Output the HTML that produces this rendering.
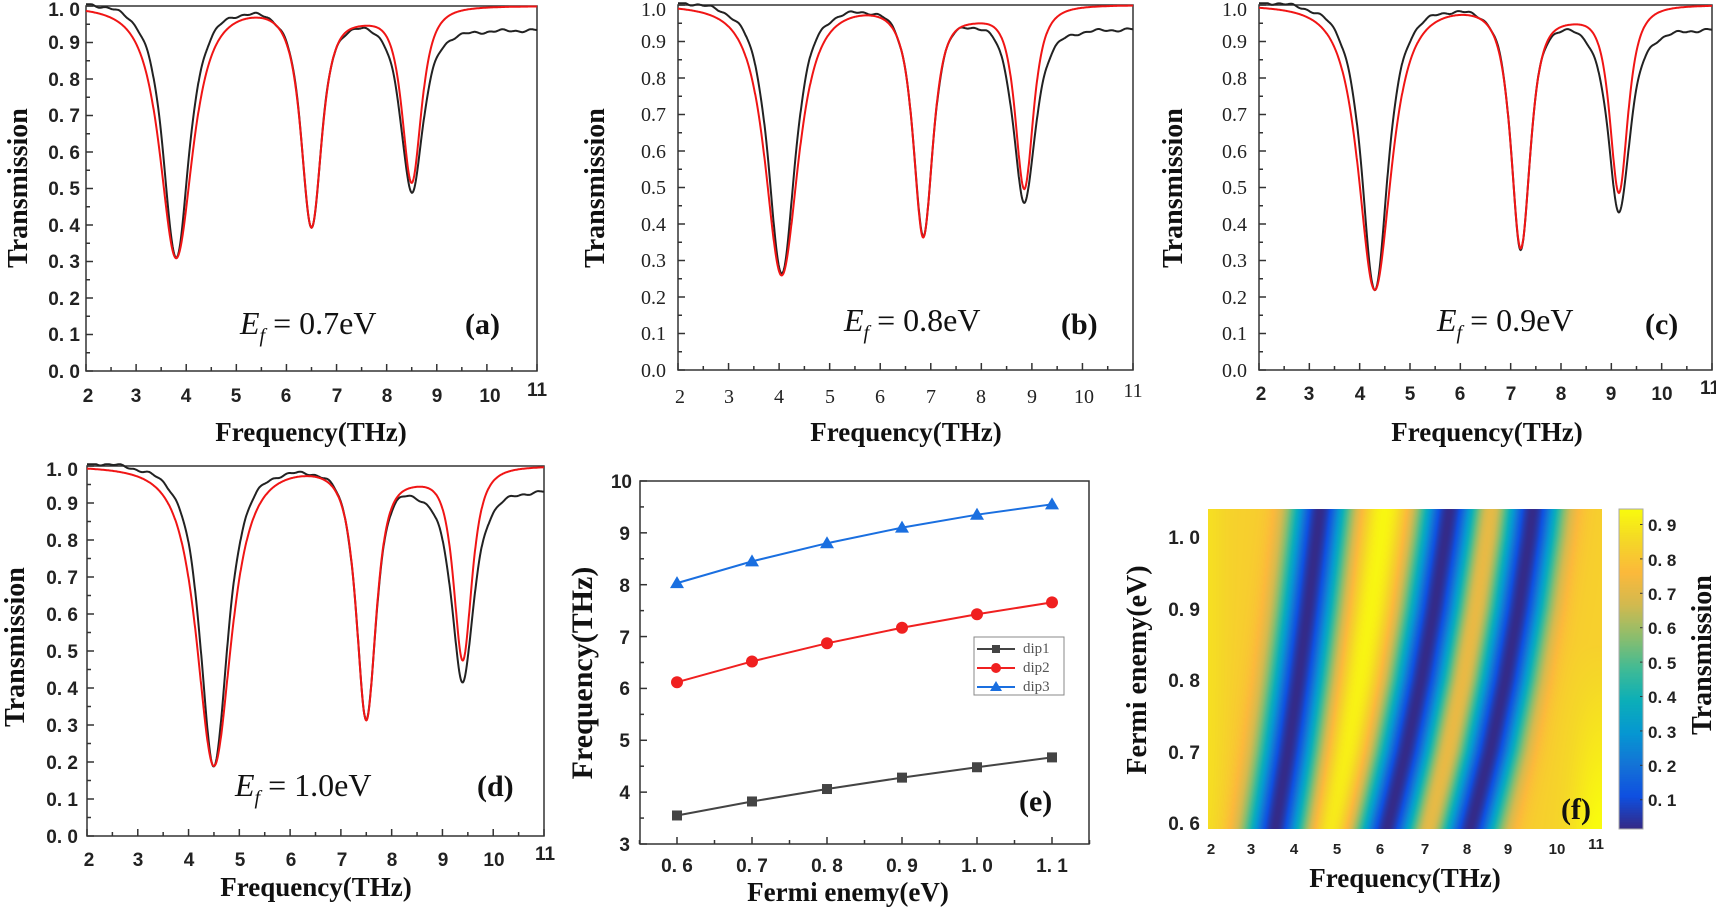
<!DOCTYPE html>
<html><head><meta charset="utf-8"><style>
html,body{margin:0;padding:0;background:#fff;}
body{width:1716px;height:910px;position:relative;overflow:hidden;}
canvas{position:absolute;}
svg{position:absolute;left:0;top:0;}
.s{font-family:"Liberation Sans",sans-serif;font-weight:bold;font-size:19px;fill:#222;}
.r{font-family:"Liberation Serif",serif;font-size:20px;fill:#222;}
.t{font-family:"Liberation Serif",serif;font-weight:bold;font-size:27px;fill:#111;}
.it{font-family:"Liberation Serif",serif;font-size:32px;fill:#111;}
</style></head><body>
<canvas id="hm" width="394" height="320" style="left:1208px;top:509px"></canvas>
<canvas id="cb" width="24" height="320" style="left:1619px;top:509px"></canvas>
<svg id="sv" width="1716" height="910" xmlns="http://www.w3.org/2000/svg">
<g id="g"></g>
<g class="s" text-anchor="end">
<text x="80" y="378">0. 0</text><text x="80" y="341">0. 1</text><text x="80" y="305">0. 2</text><text x="80" y="268">0. 3</text><text x="80" y="232">0. 4</text><text x="80" y="195">0. 5</text><text x="80" y="159">0. 6</text><text x="80" y="122">0. 7</text><text x="80" y="86">0. 8</text><text x="80" y="49">0. 9</text><text x="80" y="16">1. 0</text>
<text x="78" y="843">0. 0</text><text x="78" y="806">0. 1</text><text x="78" y="769">0. 2</text><text x="78" y="732">0. 3</text><text x="78" y="695">0. 4</text><text x="78" y="658">0. 5</text><text x="78" y="621">0. 6</text><text x="78" y="584">0. 7</text><text x="78" y="547">0. 8</text><text x="78" y="510">0. 9</text><text x="78" y="476">1. 0</text>
</g>
<g class="s" text-anchor="middle">
<text x="88" y="402">2</text><text x="136" y="402">3</text><text x="186" y="402">4</text><text x="236" y="402">5</text><text x="286" y="402">6</text><text x="337" y="402">7</text><text x="387" y="402">8</text><text x="437" y="402">9</text><text x="490" y="402">10</text><text x="537" y="396">11</text>
<text x="89" y="866">2</text><text x="138" y="866">3</text><text x="189" y="866">4</text><text x="240" y="866">5</text><text x="291" y="866">6</text><text x="342" y="866">7</text><text x="392" y="866">8</text><text x="443" y="866">9</text><text x="494" y="866">10</text><text x="545" y="860">11</text>
</g>
<g class="r" text-anchor="end">
<text x="666" y="377">0.0</text><text x="666" y="340">0.1</text><text x="666" y="304">0.2</text><text x="666" y="267">0.3</text><text x="666" y="231">0.4</text><text x="666" y="194">0.5</text><text x="666" y="158">0.6</text><text x="666" y="121">0.7</text><text x="666" y="85">0.8</text><text x="666" y="48">0.9</text><text x="666" y="16">1.0</text>
<text x="1247" y="377">0.0</text><text x="1247" y="340">0.1</text><text x="1247" y="304">0.2</text><text x="1247" y="267">0.3</text><text x="1247" y="231">0.4</text><text x="1247" y="194">0.5</text><text x="1247" y="158">0.6</text><text x="1247" y="121">0.7</text><text x="1247" y="85">0.8</text><text x="1247" y="48">0.9</text><text x="1247" y="16">1.0</text>
</g>
<g class="r" text-anchor="middle">
<text x="680" y="403">2</text><text x="729" y="403">3</text><text x="779" y="403">4</text><text x="830" y="403">5</text><text x="880" y="403">6</text><text x="931" y="403">7</text><text x="981" y="403">8</text><text x="1032" y="403">9</text><text x="1084" y="403">10</text><text x="1133" y="397">11</text>
</g>
<g class="s" text-anchor="middle">
<text x="1261" y="400">2</text><text x="1309" y="400">3</text><text x="1360" y="400">4</text><text x="1410" y="400">5</text><text x="1460" y="400">6</text><text x="1511" y="400">7</text><text x="1561" y="400">8</text><text x="1611" y="400">9</text><text x="1662" y="400">10</text><text x="1710" y="394">11</text>
</g>
<g class="t" text-anchor="middle">
<text x="311" y="441">Frequency(THz)</text>
<text x="906" y="441">Frequency(THz)</text>
<text x="1487" y="441">Frequency(THz)</text>
<text x="316" y="896">Frequency(THz)</text>
<text x="848" y="901">Fermi enemy(eV)</text>
<text x="1405" y="887">Frequency(THz)</text>
<text transform="translate(27,188) rotate(-90)" style="font-size:28px">Transmission</text>
<text transform="translate(604,188) rotate(-90)" style="font-size:28px">Transmission</text>
<text transform="translate(1182,188) rotate(-90)" style="font-size:28px">Transmission</text>
<text transform="translate(24,647) rotate(-90)" style="font-size:28px">Transmission</text>
<text transform="translate(592,673) rotate(-90)" style="font-size:30px">Frequency(THz)</text>
<text transform="translate(1146,670) rotate(-90)" style="font-size:28px">Fermi enemy(eV)</text>
<text transform="translate(1711,655) rotate(-90)" style="font-size:28px">Transmission</text>
</g>
<g class="it">
<text x="240" y="334"><tspan font-style="italic">E</tspan><tspan font-style="italic" font-size="20" dy="8">f</tspan><tspan dy="-8"> = 0.7eV</tspan></text>
<text x="844" y="331"><tspan font-style="italic">E</tspan><tspan font-style="italic" font-size="20" dy="8">f</tspan><tspan dy="-8"> = 0.8eV</tspan></text>
<text x="1437" y="331"><tspan font-style="italic">E</tspan><tspan font-style="italic" font-size="20" dy="8">f</tspan><tspan dy="-8"> = 0.9eV</tspan></text>
<text x="235" y="796"><tspan font-style="italic">E</tspan><tspan font-style="italic" font-size="20" dy="8">f</tspan><tspan dy="-8"> = 1.0eV</tspan></text>
</g>
<g class="t" style="font-size:30px">
<text x="465" y="334">(a)</text><text x="1061" y="334">(b)</text><text x="1645" y="334">(c)</text><text x="477" y="796">(d)</text>
<text x="1019" y="811">(e)</text><text x="1561" y="819">(f)</text>
</g>
<g class="s" text-anchor="end">
<text x="630" y="851">3</text><text x="630" y="799">4</text><text x="630" y="747">5</text><text x="630" y="695">6</text><text x="630" y="644">7</text><text x="630" y="592">8</text><text x="630" y="540">9</text><text x="632" y="488">10</text>
</g>
<g class="s" text-anchor="middle">
<text x="677" y="872">0. 6</text><text x="752" y="872">0. 7</text><text x="827" y="872">0. 8</text><text x="902" y="872">0. 9</text><text x="977" y="872">1. 0</text><text x="1052" y="872">1. 1</text>
</g>
<g font-family="Liberation Serif,serif" font-size="15" fill="#555">
<text x="1023" y="653">dip1</text><text x="1023" y="672">dip2</text><text x="1023" y="691">dip3</text>
</g>
<g class="s" text-anchor="end">
<text x="1200" y="544">1. 0</text><text x="1200" y="616">0. 9</text><text x="1200" y="687">0. 8</text><text x="1200" y="759">0. 7</text><text x="1200" y="830">0. 6</text>
</g>
<g class="s" text-anchor="middle" style="font-size:15px">
<text x="1211" y="854">2</text><text x="1251" y="854">3</text><text x="1294" y="854">4</text><text x="1337" y="854">5</text><text x="1380" y="854">6</text><text x="1425" y="854">7</text><text x="1467" y="854">8</text><text x="1508" y="854">9</text><text x="1557" y="854">10</text><text x="1596" y="849">11</text>
</g>
<g class="s" style="font-size:17px">
<text x="1648" y="531">0. 9</text><text x="1648" y="566">0. 8</text><text x="1648" y="600">0. 7</text><text x="1648" y="634">0. 6</text><text x="1648" y="669">0. 5</text><text x="1648" y="703">0. 4</text><text x="1648" y="738">0. 3</text><text x="1648" y="772">0. 2</text><text x="1648" y="806">0. 1</text>
</g>
</svg>
<script>
(function(){
var g=document.getElementById('g'),out='';
function L(x1,y1,x2,y2,c,w){out+='<line x1="'+x1+'" y1="'+y1+'" x2="'+x2+'" y2="'+y2+'" stroke="'+(c||'#333')+'" stroke-width="'+(w||1.5)+'"/>';}
function panel(P){
  var X=function(f){return P.x0+(f-2)*(P.x1-P.x0)/9;},Y=function(v){return P.y0-v*(P.y0-P.y1);};
  out+='<rect x="'+P.x0+'" y="'+P.y1+'" width="'+(P.x1-P.x0)+'" height="'+(P.y0-P.y1)+'" fill="none" stroke="#333" stroke-width="1.5"/>';
  for(var f=2;f<=11.001;f+=0.5){var mj=Math.abs(f-Math.round(f))<0.01;L(X(f),P.y0,X(f),P.y0-(mj?7:4));}
  for(var v=0;v<=1.001;v+=0.05){var mj=Math.abs(v*10-Math.round(v*10))<0.01;L(P.x0,Y(v),P.x0+(mj?7:4),Y(v));}
  var m23=(P.d[1][0]+P.d[2][0])/2;
  function T(f,gs,bl){var t=1;P.d.forEach(function(d,i){var gg=d[2]*gs[i];var r=gg*gg/((f-d[0])*(f-d[0])+gg*gg);t-=d[1]*Math.pow(r,1.5);});
    t-=0.025*Math.exp(-Math.pow((f-m23)/0.6,2));
    if(bl){t-=0.065/(1+Math.exp(-(f-8.7)*3))+0.003*Math.sin(f*9)+0.002*Math.sin(f*23);} return t;}
  var pr='',pb='';
  for(var i=0;i<=900;i++){var f=2+i*0.01;
    var vr=T(f,[1,1,1],false),vb=T(f,[0.8,1.0,1.2],true)+0.012*Math.exp(-Math.pow((f-2)/1.2,2));
    if(vb>1.005)vb=1.005;
    pr+=(i?'L':'M')+X(f).toFixed(1)+' '+Y(vr).toFixed(1);
    pb+=(i?'L':'M')+X(f).toFixed(1)+' '+Y(vb).toFixed(1);}
  out+='<path d="'+pb+'" fill="none" stroke="#222" stroke-width="2"/>';
  out+='<path d="'+pr+'" fill="none" stroke="#f01515" stroke-width="2"/>';
}
panel({x0:86,x1:537,y0:371,y1:6,d:[[3.8,0.69,0.5],[6.5,0.6,0.32],[8.5,0.48,0.3]]});
panel({x0:678,x1:1133,y0:370,y1:5,d:[[4.05,0.74,0.5],[6.85,0.63,0.3],[8.85,0.5,0.28]]});
panel({x0:1259,x1:1712,y0:370,y1:5,d:[[4.3,0.78,0.5],[7.2,0.66,0.3],[9.15,0.51,0.28]]});
panel({x0:87,x1:544,y0:836,y1:466,d:[[4.5,0.81,0.52],[7.5,0.68,0.3],[9.4,0.52,0.28]]});
var EX=function(e){return 677+(e-0.6)*750;},EY=function(F){return 844-(F-3)*51.86;};
out+='<rect x="640" y="481" width="449" height="363" fill="none" stroke="#333" stroke-width="1.5"/>';
for(var e=0.55;e<=1.151;e+=0.05){var mj=Math.abs(e*10-Math.round(e*10))<0.01;L(EX(e),844,EX(e),844-(mj?7:4));}
for(var F=3;F<=10.01;F+=0.5){var mj=Math.abs(F-Math.round(F))<0.01;L(640,EY(F),640+(mj?7:4),EY(F));}
var E=[0.6,0.7,0.8,0.9,1.0,1.1];
var D=[[3.55,3.82,4.06,4.28,4.48,4.67],[6.12,6.52,6.87,7.17,7.43,7.66],[8.03,8.45,8.80,9.10,9.35,9.55]];
var C=['#444','#f02020','#1a6fe0'];
D.forEach(function(s,k){var p='';s.forEach(function(F,i){p+=(i?'L':'M')+EX(E[i])+' '+EY(F);});
  out+='<path d="'+p+'" fill="none" stroke="'+C[k]+'" stroke-width="2"/>';
  s.forEach(function(F,i){var x=EX(E[i]),y=EY(F);
    if(k==0)out+='<rect x="'+(x-5)+'" y="'+(y-5)+'" width="10" height="10" fill="'+C[k]+'"/>';
    else if(k==1)out+='<circle cx="'+x+'" cy="'+y+'" r="6" fill="'+C[k]+'"/>';
    else out+='<polygon points="'+x+','+(y-7)+' '+(x+7)+','+(y+5)+' '+(x-7)+','+(y+5)+'" fill="'+C[k]+'"/>';});
});
out+='<rect x="974" y="637" width="90" height="58" fill="#fff" stroke="#888" stroke-width="1"/>';
[649,668,687].forEach(function(y,k){L(977,y,1015,y,C[k],2);var x=996;
  if(k==0)out+='<rect x="'+(x-4)+'" y="'+(y-4)+'" width="8" height="8" fill="'+C[k]+'"/>';
  else if(k==1)out+='<circle cx="'+x+'" cy="'+y+'" r="5" fill="'+C[k]+'"/>';
  else out+='<polygon points="'+x+','+(y-6)+' '+(x+6)+','+(y+4)+' '+(x-6)+','+(y+4)+'" fill="'+C[k]+'"/>';});
for(var v=0.1;v<=0.91;v+=0.1){var y=829-(v-0.015)/0.93*320;L(1640,y,1643,y,'#333',1);}
out+='<rect x="1619" y="509" width="24" height="320" fill="none" stroke="#aaa" stroke-width="1"/>';
g.innerHTML=out;

var S=[[0,53,42,135],[0.1,15,80,225],[0.2,20,116,215],[0.3,6,152,210],[0.4,12,175,185],[0.5,65,187,150],[0.6,140,190,110],[0.7,210,186,80],[0.8,252,185,60],[0.9,245,215,40],[1,249,251,14]];
function col(v){var t=(v-0.015)/0.93;if(t<0)t=0;if(t>1)t=1;
  for(var i=1;i<S.length;i++){if(t<=S[i][0]){var a=S[i-1],b=S[i],u=(t-a[0])/(b[0]-a[0]);
    return [a[1]+(b[1]-a[1])*u,a[2]+(b[2]-a[2])*u,a[3]+(b[3]-a[3])*u];}}return [249,251,14];}
function interp(arr,e){var i=Math.floor((e-0.6)/0.1);if(i<0)i=0;if(i>4)i=4;var u=(e-0.6)/0.1-i;return arr[i]+(arr[i+1]-arr[i])*u;}
var cv=document.getElementById('hm'),cx=cv.getContext('2d'),im=cx.createImageData(394,320);
for(var py=0;py<320;py++){var e=1.038-(py/319)*(1.038-0.592);
  var c=[interp(D[0],e),interp(D[1],e),interp(D[2],e)];
  var m12=(c[0]+c[1])/2,m23=(c[1]+c[2])/2;
  for(var px=0;px<394;px++){var f=2+px/393*9;
    var t=0.83+0.12*Math.exp(-Math.pow((f-m12)/0.5,2))+0.12*Math.exp(-Math.pow((f-m23)/0.35,2))+0.12*Math.exp(-Math.pow((f-11)/0.7,2))*Math.max(0,(0.85-e)/0.25)+0.04*Math.exp(-Math.pow((f-2)/0.4,2));
    for(var k=0;k<3;k++){var d=(f-c[k])/0.68;t*=1-0.98*Math.exp(-d*d);}
    var cl=col(t),o=(py*394+px)*4;im.data[o]=cl[0];im.data[o+1]=cl[1];im.data[o+2]=cl[2];im.data[o+3]=255;}}
cx.putImageData(im,0,0);
var cb=document.getElementById('cb'),bx=cb.getContext('2d');
for(var py=0;py<320;py++){var v=0.945-py/319*0.93;var cl=col(v);bx.fillStyle='rgb('+(cl[0]|0)+','+(cl[1]|0)+','+(cl[2]|0)+')';bx.fillRect(0,py,24,1);}
})();
</script>
</body></html>
